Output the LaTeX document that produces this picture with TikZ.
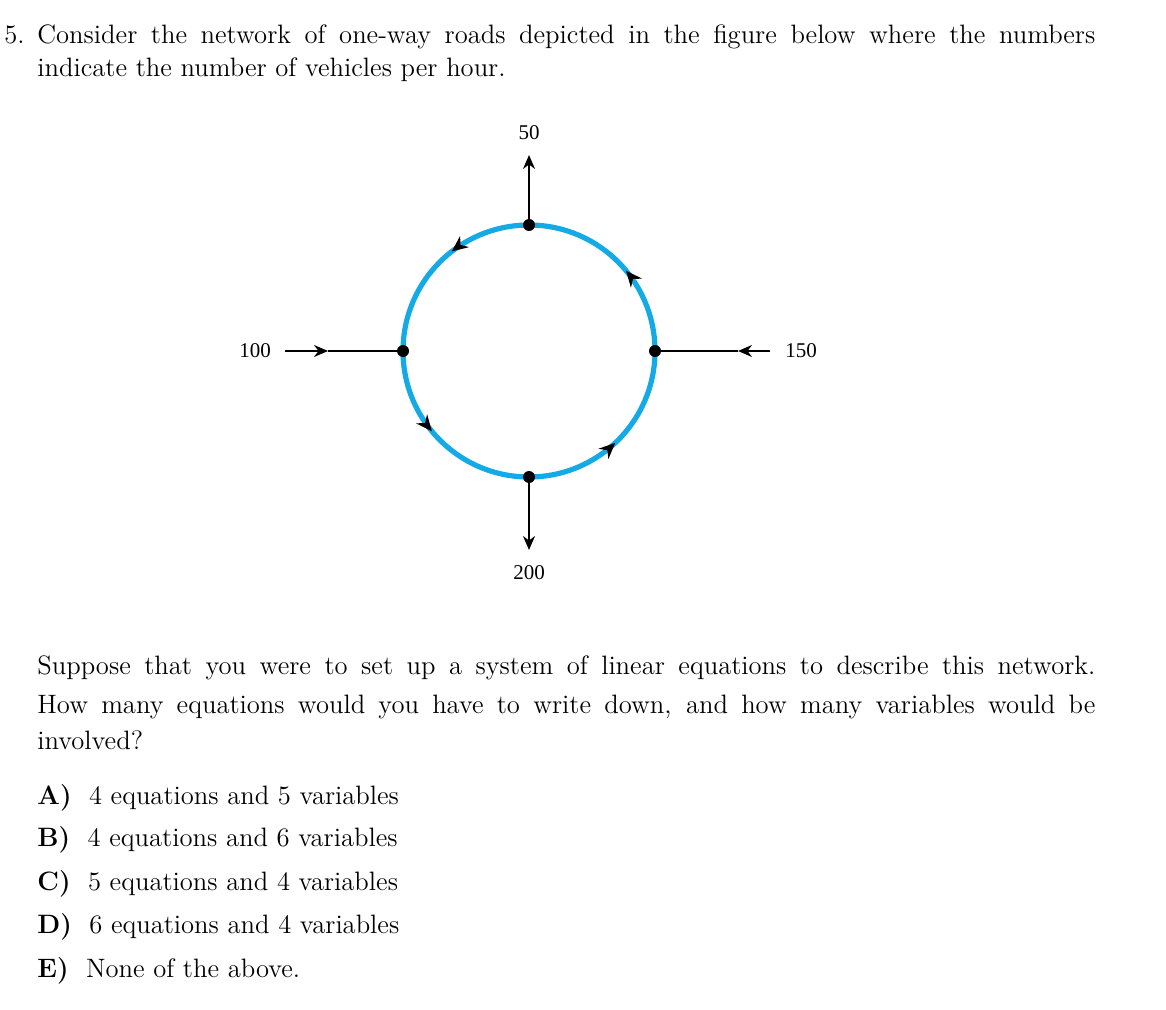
\documentclass[tikz,border=0pt]{standalone}
\usepackage{fontspec}
\newfontfamily\figfont{Liberation Serif}
\usetikzlibrary{arrows.meta,decorations.markings}
\definecolor{road}{RGB}{20,170,230}
\tikzset{
 txt/.style={anchor=base west,inner sep=0pt,font=\fontsize{13.3}{16}\selectfont},
 lbl/.style={inner sep=0pt,font=\figfont\fontsize{10.5}{12}\selectfont},
 dot/.style={circle,fill=black,inner sep=0pt,minimum size=6pt},
 feed/.style={line width=0.9pt},
 tip/.style={-{Stealth[length=7pt,width=6pt]}},
}
\begin{document}
\begin{tikzpicture}[x=0.5pt,y=-0.5pt]
\useasboundingbox (0,0) rectangle (1166,1010);
% text
\node[txt] (n5) at (4,44) {5.};
\node[txt] (l1) at (37,44) {\makebox[529pt][s]{Consider the network of one-way roads depicted in the figure below where the numbers}};
\node[txt] (l2) at (37,77) {indicate the number of vehicles per hour.};
\node[txt] (p1) at (37,674) {\makebox[529pt][s]{Suppose that you were to set up a system of linear equations to describe this network.}};
\node[txt] (p2) at (37,713) {\makebox[529pt][s]{How many equations would you have to write down, and how many variables would be}};
\node[txt] (p3) at (37,749) {involved?};
\node[txt] (oa) at (37,804) {\textbf{A)}\ \ 4 equations and 5 variables};
\node[txt] (ob) at (37,846) {\textbf{B)}\ \ 4 equations and 6 variables};
\node[txt] (oc) at (37,890) {\textbf{C)}\ \ 5 equations and 4 variables};
\node[txt] (od) at (37,933) {\textbf{D)}\ \ 6 equations and 4 variables};
\node[txt] (oe) at (37,977) {\textbf{E)}\ \ None of the above.};
% circle
\coordinate (c) at (529,351);
\draw[road,line width=2.6pt,postaction={decorate},decoration={markings,
  mark=at position 0.11 with {\arrow[black]{Stealth[length=8pt,width=7pt]}},
  mark=at position 0.355 with {\arrow[black]{Stealth[length=8pt,width=7pt]}},
  mark=at position 0.61 with {\arrow[black]{Stealth[length=8pt,width=7pt]}},
  mark=at position 0.87 with {\arrow[black]{Stealth[length=8pt,width=7pt]}}}]
  (655,351) arc[start angle=0,end angle=-360,radius=126];
\node[dot] (t) at (529,225) {};
\node[dot] (l) at (403,351) {};
\node[dot] (r) at (655,351) {};
\node[dot] (b) at (529,477) {};
% feeders
\node[lbl] (L50) at (529,133) {50};
\node[lbl] (L100) at (255,351) {100};
\node[lbl] (L150) at (801,351) {150};
\node[lbl] (L200) at (529,573) {200};
\coordinate (ta) at (529,155);
\coordinate (ba) at (529,550);
\coordinate (ls) at (285,351);
\coordinate (le) at (328,351);
\coordinate (rs) at (770,351);
\coordinate (re) at (738,351);
\draw[feed,tip] (t) -- (ta);
\draw[feed,tip] (b) -- (ba);
\draw[feed,tip] (ls) -- (le);
\draw[feed] (le) -- (l);
\draw[feed,tip] (rs) -- (re);
\draw[feed] (re) -- (r);
\end{tikzpicture}
\end{document}
